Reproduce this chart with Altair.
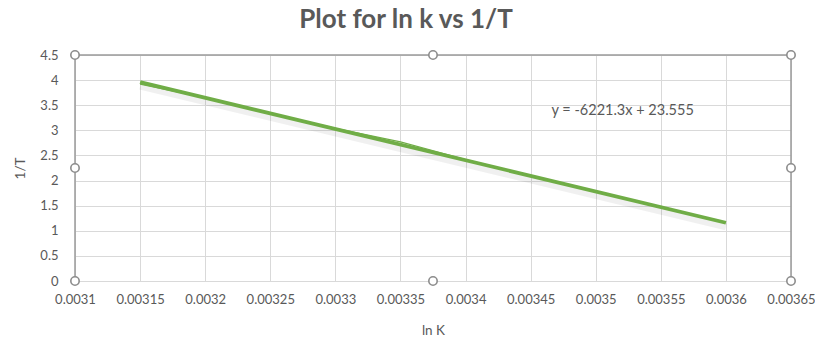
import altair as alt
import pandas as pd

# data series
data_x = [0.00315, 0.0032, 0.00325, 0.0033, 0.00335, 0.0034, 0.00345, 0.0035, 0.00355, 0.0036]
data_y = [3.92, 3.65, 3.34, 3.04, 2.77, 2.42, 2.09, 1.78, 1.47, 1.16]
trend_x = [0.00315, 0.0036]
trend_y = [3.96, 1.16]
eq_text = ["y = -6221.3x + 23.555"]
eq_x = [0.003466]
eq_y = [3.39]
handle_x = [0.0031, 0.003375, 0.00365, 0.0031, 0.00365, 0.0031, 0.003375, 0.00365]
handle_y = [4.5, 4.5, 4.5, 2.25, 2.25, 0, 0, 0]
frame_x = [0.0031, 0.0031, 0.00365, 0.00365]
frame_y = [0, 4.5, 4.5, 0]
x_ticks = [0.0031, 0.00315, 0.0032, 0.00325, 0.0033, 0.00335, 0.0034, 0.00345, 0.0035, 0.00355, 0.0036, 0.00365]
y_ticks = [0, 0.5, 1, 1.5, 2, 2.5, 3, 3.5, 4, 4.5]

GREEN = "#70AD47"
TXT = "#595959"
FONT = "Lato"

df_data = pd.DataFrame({"x": data_x, "y": data_y})
df_trend = pd.DataFrame({"x": trend_x, "y": trend_y})
df_eq = pd.DataFrame({"x": eq_x, "y": eq_y, "t": eq_text})
df_h = pd.DataFrame({"x": handle_x, "y": handle_y})
df_f = pd.DataFrame({"x": frame_x, "y": frame_y, "o": list(range(4))})

xscale = alt.Scale(domain=[0.0031, 0.00365], nice=False, zero=False)
yscale = alt.Scale(domain=[0, 4.5], nice=False)

xaxis = alt.Axis(values=x_ticks, format="~g", title="ln K", labelFont=FONT, labelFontSize=13,
                 labelColor=TXT, titleFont=FONT, titleFontSize=13.5, titleColor=TXT,
                 titleFontWeight="normal", ticks=False, domain=False, gridColor="#d9d9d9",
                 labelPadding=12, titlePadding=17, labelFlush=False, labelOverlap=False)
yaxis = alt.Axis(values=y_ticks, format="~g", title="1/T", labelFont=FONT, labelFontSize=13,
                 labelColor=TXT, titleFont=FONT, titleFontSize=13.5, titleColor=TXT,
                 titleFontWeight="normal", ticks=False, domain=False, gridColor="#d9d9d9",
                 labelPadding=17, titlePadding=12, labelFlush=False, labelOverlap=False)

X = alt.X("x:Q", scale=xscale, axis=xaxis)
Y = alt.Y("y:Q", scale=yscale, axis=yaxis)

frame = alt.Chart(df_f).mark_line(color="#9a9a9a", strokeWidth=1.5).encode(x=X, y=Y, order="o:O")
shadow = alt.Chart(df_trend).mark_line(color="#000000", strokeWidth=7, opacity=0.06, yOffset=4).encode(x=X, y=Y)
trend = alt.Chart(df_trend).mark_line(color=GREEN, strokeWidth=3.8).encode(x=X, y=Y)
series = alt.Chart(df_data).mark_line(color=GREEN, strokeWidth=1.2).encode(x=X, y=Y)
eq = alt.Chart(df_eq).mark_text(align="left", baseline="middle", font=FONT, fontSize=14.5, color=TXT).encode(
    x=X, y=Y, text="t:N")
handles = alt.Chart(df_h).mark_point(shape="circle", filled=True, fill="white", stroke="#8c8c8c",
                                     strokeWidth=1.6, size=70, opacity=1).encode(x=X, y=Y)

chart = alt.layer(frame, shadow, trend, series, eq, handles).properties(
    width=716, height=226,
    title=alt.TitleParams("Plot for ln k vs 1/T", font=FONT, fontSize=26, fontWeight="bold",
                          color=TXT, anchor="middle", dx=-27, offset=15),
    autosize=alt.AutoSizeParams(type="none"),
    padding={"left": 75, "top": 55, "right": 24, "bottom": 73},
).configure_view(stroke=None).configure(background="white")

chart.save("out.html", embed_options={"renderer": "svg", "actions": False})
